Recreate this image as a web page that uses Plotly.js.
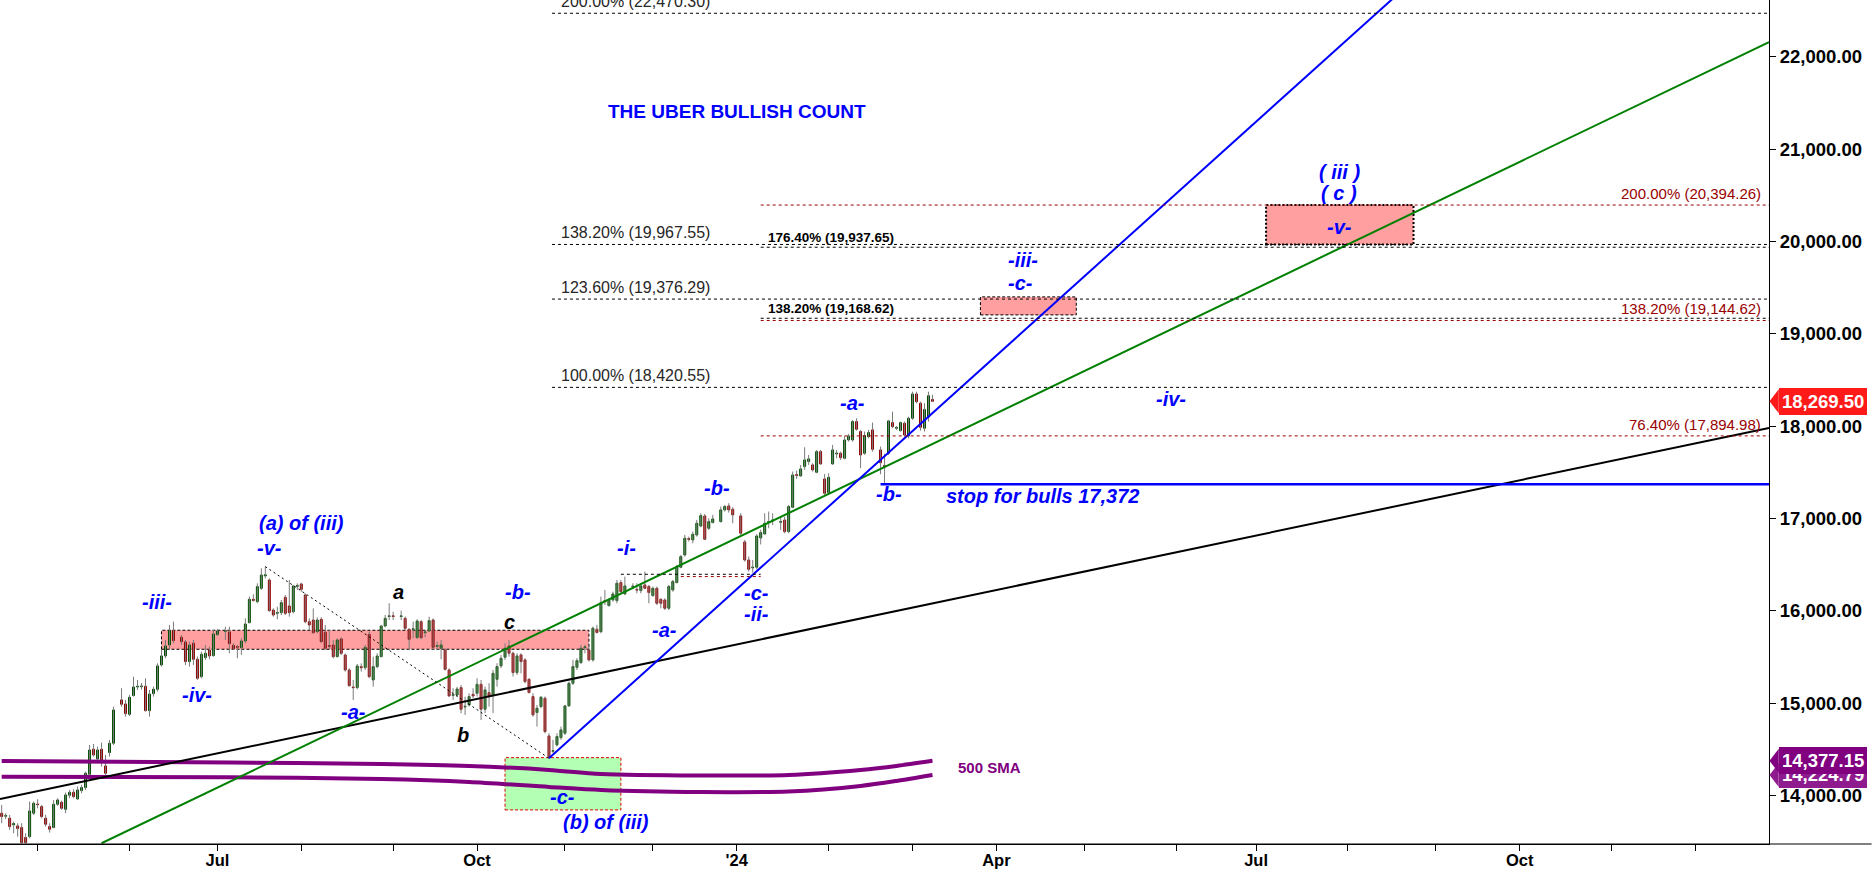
<!DOCTYPE html>
<html><head><meta charset="utf-8">
<script src="https://cdn.plot.ly/plotly-3.0.1.min.js"></script>
<style>html,body{margin:0;padding:0;background:#fff;overflow:hidden}#chart{width:1874px;height:873px}</style>
</head><body><div id="chart"></div>
<script>
// ---------- daily candles ----------
const dates = [
'2023-04-18','2023-04-19','2023-04-20','2023-04-21','2023-04-24','2023-04-25','2023-04-26','2023-04-27','2023-04-28',
'2023-05-01','2023-05-02','2023-05-03','2023-05-04','2023-05-05','2023-05-08','2023-05-09','2023-05-10','2023-05-11','2023-05-12','2023-05-15','2023-05-16','2023-05-17','2023-05-18','2023-05-19','2023-05-22','2023-05-23','2023-05-24','2023-05-25','2023-05-26','2023-05-30','2023-05-31',
'2023-06-01','2023-06-02','2023-06-05','2023-06-06','2023-06-07','2023-06-08','2023-06-09','2023-06-12','2023-06-13','2023-06-14','2023-06-15','2023-06-16','2023-06-20','2023-06-21','2023-06-22','2023-06-23','2023-06-26','2023-06-27','2023-06-28','2023-06-29','2023-06-30',
'2023-07-03','2023-07-05','2023-07-06','2023-07-07','2023-07-10','2023-07-11','2023-07-12','2023-07-13','2023-07-14','2023-07-17','2023-07-18','2023-07-19','2023-07-20','2023-07-21','2023-07-24','2023-07-25','2023-07-26','2023-07-27','2023-07-28','2023-07-31',
'2023-08-01','2023-08-02','2023-08-03','2023-08-04','2023-08-07','2023-08-08','2023-08-09','2023-08-10','2023-08-11','2023-08-14','2023-08-15','2023-08-16','2023-08-17','2023-08-18','2023-08-21','2023-08-22','2023-08-23','2023-08-24','2023-08-25','2023-08-28','2023-08-29','2023-08-30','2023-08-31',
'2023-09-01','2023-09-05','2023-09-06','2023-09-07','2023-09-08','2023-09-11','2023-09-12','2023-09-13','2023-09-14','2023-09-15','2023-09-18','2023-09-19','2023-09-20','2023-09-21','2023-09-22','2023-09-25','2023-09-26','2023-09-27','2023-09-28','2023-09-29',
'2023-10-02','2023-10-03','2023-10-04','2023-10-05','2023-10-06','2023-10-09','2023-10-10','2023-10-11','2023-10-12','2023-10-13','2023-10-16','2023-10-17','2023-10-18','2023-10-19','2023-10-20','2023-10-23','2023-10-24','2023-10-25','2023-10-26','2023-10-27','2023-10-30','2023-10-31',
'2023-11-01','2023-11-02','2023-11-03','2023-11-06','2023-11-07','2023-11-08','2023-11-09','2023-11-10','2023-11-13','2023-11-14','2023-11-15','2023-11-16','2023-11-17','2023-11-20','2023-11-21','2023-11-22','2023-11-24','2023-11-27','2023-11-28','2023-11-29','2023-11-30',
'2023-12-01','2023-12-04','2023-12-05','2023-12-06','2023-12-07','2023-12-08','2023-12-11','2023-12-12','2023-12-13','2023-12-14','2023-12-15','2023-12-18','2023-12-19','2023-12-20','2023-12-21','2023-12-22','2023-12-26','2023-12-27','2023-12-28','2023-12-29',
'2024-01-02','2024-01-03','2024-01-04','2024-01-05','2024-01-08','2024-01-09','2024-01-10','2024-01-11','2024-01-12','2024-01-16','2024-01-17','2024-01-18','2024-01-19','2024-01-22','2024-01-23','2024-01-24','2024-01-25','2024-01-26','2024-01-29','2024-01-30','2024-01-31',
'2024-02-01','2024-02-02','2024-02-05','2024-02-06','2024-02-07','2024-02-08','2024-02-09','2024-02-12','2024-02-13','2024-02-14','2024-02-15','2024-02-16','2024-02-20','2024-02-21','2024-02-22','2024-02-23','2024-02-26','2024-02-27','2024-02-28','2024-02-29',
'2024-03-01','2024-03-04','2024-03-05','2024-03-06','2024-03-07','2024-03-08'];

const opens = [
13810,13778,13756,13684,13673,13655,13547,13557,13810,
13910,13882,13756,13666,13655,13907,13929,13853,14005,14037,13965,14055,14088,14232,14503,14398,14503,14322,14467,14568,15037,14993,
14881,15084,15177,15180,15184,14921,15105,15152,15415,15513,15632,15787,15715,15664,15452,15650,15477,15289,15495,15578,15516,
15744,15780,15773,15628,15614,15603,15675,15873,16126,16101,16245,16380,16335,16010,15975,15982,16147,16054,15992,16266,
16292,16173,15884,15902,15776,15909,15769,15625,15632,15505,15697,15523,15361,15177,15170,15397,15386,15747,15253,15397,15505,15837,15940,
15948,15940,15920,15801,15800,15711,15884,15765,15783,15902,15617,15596,15578,15361,15086,15090,15170,14960,14983,15098,
15109,15206,14936,15116,15091,15260,15405,15499,15621,15542,15333,15524,15470,15260,15073,14900,14965,15055,14647,14480,14550,14629,
14676,14972,15217,15390,15441,15603,15578,15470,15802,15776,16112,16058,16119,16112,16307,16184,16260,16234,16220,16282,16264,
16166,16245,16126,16119,16029,16227,16307,16473,16606,16784,16769,16823,16920,17028,16895,16957,16967,17094,17137,17101,
17029,16747,16552,16466,16473,16790,16834,16960,16975,16960,16985,16859,17122,17476,17462,17563,17617,17581,17501,17725,17429,
17281,17592,17700,17707,17653,17851,17851,18050,17942,17707,17887,17960,17743,17575,17707,18039,17978,17952,18032,17895,
18086,18349,18248,17978,18100,18290];

const highs = [
13900,13810,13792,13720,13702,13702,13593,13936,13936,
13961,13900,13792,13702,13954,13972,13947,14034,14062,14070,14099,14117,14261,14549,14560,14531,14575,14441,14604,14964,15163,15037,
15091,15289,15253,15220,15271,15145,15181,15433,15578,15686,15848,15884,15740,15686,15668,15686,15506,15560,15632,15614,15794,
15805,15830,15830,15650,15632,15704,15920,16155,16180,16299,16462,16480,16353,16028,16046,16119,16173,16335,16281,16299,
16306,16191,15920,16028,15931,15931,15848,15794,15686,15704,15715,15541,15379,15253,15426,15433,15632,15776,15505,15541,15848,15956,16083,
15992,16003,15940,15812,15884,15910,15900,15794,15938,15920,15668,15686,15596,15379,15163,15180,15199,15072,15109,15163,
15271,15253,15181,15217,15361,15434,15524,15650,15686,15560,15542,15542,15488,15271,15109,14983,15080,15073,14676,14604,14676,14748,
14983,15235,15470,15488,15632,15632,15632,15831,15849,16155,16227,16137,16209,16336,16336,16372,16300,16300,16300,16426,16282,
16264,16264,16137,16137,16282,16336,16498,16606,16823,16805,16859,16985,17057,17050,17003,17040,17130,17148,17166,17123,
17058,16769,16589,16552,16830,16880,17058,17076,17058,17021,17021,17148,17509,17520,17581,17772,17689,17599,17743,17743,17483,
17490,17797,17743,17725,17895,17916,18068,18086,17960,17942,17960,18039,17780,17700,18068,18158,18003,18050,18050,18104,
18374,18374,18266,18248,18374,18340];

const lows = [
13702,13745,13630,13593,13557,13485,13485,13539,13792,
13864,13756,13666,13601,13648,13889,13846,13810,13972,13972,13954,14026,14062,14225,14423,14387,14315,14225,14423,14549,14964,14856,
14863,15073,15145,15150,14910,14856,15073,15127,15397,15488,15578,15650,15632,15415,15397,15415,15253,15271,15470,15477,15506,
15729,15686,15542,15578,15488,15524,15650,15866,16101,16083,16227,16353,15992,15938,15910,15956,15956,15938,15974,16227,
16209,15866,15794,15751,15758,15650,15578,15585,15487,15498,15523,15343,15180,15036,15152,15343,15361,15271,15180,15379,15498,15823,15902,
15902,15902,15794,15578,15704,15700,15693,15715,15776,15585,15578,15477,15354,15072,15036,15072,14892,14874,14965,15055,
15073,14820,14893,14965,14893,15181,15380,15470,15506,15289,15307,15325,15217,15109,14856,14748,14947,14676,14405,14460,14532,14604,
14658,14965,15199,15361,15427,15542,15452,15452,15758,15758,16065,16047,16101,16083,16191,16173,16235,16191,16191,16235,16083,
16155,16065,16029,16011,16011,16209,16300,16462,16588,16751,16733,16805,16906,16769,16877,16949,16957,17076,17065,16949,
16823,16534,16426,16415,16451,16720,16823,16895,16930,16877,16841,16841,17112,17430,17454,17527,17581,17509,17490,17581,17256,
17274,17581,17653,17635,17642,17833,17833,17952,17545,17689,17869,17725,17480,17380,17689,17978,17960,17942,17887,17869,
18068,18248,17952,17942,18050,18262];

const closes = [
13774,13784,13666,13698,13644,13492,13492,13835,13918,
13904,13774,13691,13637,13907,13954,13864,14008,14037,13990,14062,14088,14243,14495,14441,14495,14362,14243,14568,14928,14990,14889,
15065,15177,15184,15186,14921,15101,15152,15405,15513,15621,15791,15679,15668,15452,15632,15477,15271,15531,15542,15513,15751,
15783,15786,15646,15592,15608,15675,15859,16126,16115,16263,16389,16390,16003,15956,15982,16090,15974,15982,16270,16274,
16234,15884,15848,15765,15902,15668,15596,15617,15505,15686,15541,15361,15191,15170,15404,15386,15606,15289,15397,15512,15837,15920,15946,
15940,15946,15812,15693,15806,15891,15711,15772,15895,15606,15625,15632,15368,15080,15094,15155,14935,14968,15073,15080,
15206,14936,15145,15073,15325,15398,15488,15596,15542,15333,15513,15452,15235,15116,14875,14947,15066,14694,14423,14488,14640,14712,
14972,15217,15398,15462,15596,15610,15470,15813,15766,16090,16100,16119,16184,16300,16209,16271,16267,16227,16271,16245,16199,
16245,16083,16083,16029,16264,16318,16480,16588,16787,16776,16830,16949,17032,16776,16967,16996,17094,17130,17094,17040,
16841,16552,16451,16473,16812,16848,16949,16967,16985,16967,16859,17130,17472,17468,17537,17635,17646,17527,17725,17592,17274,
17447,17743,17707,17660,17851,17893,18050,17967,17689,17898,17931,17750,17605,17560,18057,17996,17985,18039,17905,18086,
18349,18266,17988,18180,18330,18269.5];

// ---------- 500 SMA envelope (read at sample dates) ----------
const smaDates = ['2023-04-18','2023-07-06','2023-08-29','2023-09-28','2023-10-26','2023-11-14','2023-12-19','2024-01-18','2024-02-13','2024-02-26','2024-03-08'];
const smaUpper = [14376,14360,14344,14322,14279,14235,14219,14225,14279,14322,14377.15];
const smaLower = [14206,14200,14181,14149,14095,14062,14040,14046,14106,14160,14224.79];

// ---------- trend lines (anchor points) ----------
const blackTrendX = ['2023-04-17 13:55','2024-12-26 09:36'];
const blackTrendY = [13965,17981];
const greenTrendX = ['2023-05-23','2024-12-26 09:36'];
const greenTrendY = [13485,22159];
const blueTrendX = ['2023-10-26','2024-08-23 09:36'];
const blueTrendY = [14405,22830];
const dottedX = ['2023-07-19','2023-10-26'];
const dottedY = [16480,14405];
const stopX = ['2024-02-20','2024-12-26 09:36'];
const stopY = [17372,17372];

// ---------- fibonacci levels ----------
const fibLongLevels = [22470.30,19967.55,19376.29,18420.55];
const fibLongLabels = ['200.00% (22,470.30)','138.20% (19,967.55)','123.60% (19,376.29)','100.00% (18,420.55)'];
const fibShortLevels = [19937.65,19168.62];
const fibShortLabels = ['176.40% (19,937.65)','138.20% (19,168.62)'];
const fibRedLevels = [20394.26,19144.62,17894.98];
const fibRedLabels = ['200.00% (20,394.26)','138.20% (19,144.62)','76.40% (17,894.98)'];

const lastPrice = 18269.50;

// ---------- build ----------
const X_END = '2024-12-26 09:36';
const FONT = 'Liberation Sans, Arial, sans-serif';
const bodyHi = opens.map((o,i)=>Math.max(o,closes[i]));
const bodyLo = opens.map((o,i)=>Math.min(o,closes[i]));
const wickX = [], wickY = [];
dates.forEach((d,i)=>{ wickX.push(d,d,null); wickY.push(lows[i],highs[i],null); });

function line(x,y,color,width,dash,shape){
  return {type:'scatter',mode:'lines',x:x,y:y,hoverinfo:'skip',
    line:{color:color,width:width,dash:dash||'solid',shape:shape||'linear',smoothing:0.8}};
}

const traces = [
  line(wickX,wickY,'#7a7a7a',1),
  {type:'candlestick',x:dates,open:opens,high:bodyHi,low:bodyLo,close:closes,
   whiskerwidth:0,hoverinfo:'skip',
   increasing:{line:{color:'#004d00',width:1},fillcolor:'#008000'},
   decreasing:{line:{color:'#8b0000',width:1},fillcolor:'#e60000'}},
  line(smaDates,smaUpper,'#800080',4,'solid','spline'),
  line(smaDates,smaLower,'#800080',4,'solid','spline'),
  line(blackTrendX,blackTrendY,'#000000',2),
  line(greenTrendX,greenTrendY,'#008000',2),
  line(blueTrendX,blueTrendY,'#0000ff',2),
  line(dottedX,dottedY,'#000000',1,'2px,3px'),
  line(stopX,stopY,'#0000ff',2.5),
  line(['2023-11-21','2024-01-09'],[16397,16397],'#000000',1,'3px,3px'),
  line(['2023-12-12','2024-01-09'],[16372,16372],'#990000',1,'3px,3px')
];

const shapes = [
  {type:'rect',xref:'x',yref:'y',x0:'2023-06-13',x1:'2023-11-09',y0:15585,y1:15791,layer:'below',
   fillcolor:'#ff9f9f',line:{color:'#000',width:1,dash:'3px,2px'}},
  {type:'rect',xref:'x',yref:'y',x0:'2023-10-11',x1:'2023-11-21',y0:13846,y1:14412,layer:'below',
   fillcolor:'#b3ffb3',line:{color:'#e00000',width:1,dash:'3px,2px'}},
  {type:'rect',xref:'x',yref:'y',x0:'2024-03-26',x1:'2024-04-29',y0:19205,y1:19400,layer:'below',
   fillcolor:'#ff9f9f',line:{color:'#000',width:1,dash:'3px,2px'}},
  {type:'rect',xref:'x',yref:'y',x0:'2024-07-03 12:00',x1:'2024-08-23 10:00',y0:19967.55,y1:20394.26,layer:'below',
   fillcolor:'#ff9f9f',line:{color:'#000',width:2,dash:'2px,2px'}},
  {type:'line',xref:'paper',yref:'paper',x0:0,x1:1.058,y0:0,y1:0,line:{color:'#000',width:1}}
];
fibLongLevels.forEach(v=>shapes.push({type:'line',xref:'x',yref:'y',x0:'2023-10-26 18:00',x1:X_END,y0:v,y1:v,
  line:{color:'#000',width:1,dash:'3px,3px'}}));
fibShortLevels.forEach(v=>shapes.push({type:'line',xref:'x',yref:'y',x0:'2024-01-09',x1:X_END,y0:v,y1:v,
  line:{color:'#000',width:1,dash:'3px,3px'}}));
fibRedLevels.forEach(v=>shapes.push({type:'line',xref:'x',yref:'y',x0:'2024-01-09',x1:X_END,y0:v,y1:v,
  line:{color:'#990000',width:1,dash:'3px,3px'}}));

// price tag arrows
function tagArrow(v,color){
  const h = 130;
  return {type:'path',xref:'paper',yref:'y',fillcolor:color,line:{color:color,width:0},
    path:`M 1.0003 ${v} L 1.0055 ${v+h} L 1.0055 ${v-h} Z`};
}
shapes.push(tagArrow(14224.79,'#8f1c8f'));
shapes.push(tagArrow(14377.15,'#800080'));
shapes.push(tagArrow(lastPrice,'#ff1a1a'));

const BLUE = '#0000ff';
function wave(text,x,y,color,size){
  return {x:x,y:y,xref:'x',yref:'y',text:'<b><i>'+text+'</i></b>',showarrow:false,
    xanchor:'center',yanchor:'middle',font:{family:FONT,size:size||20,color:color||BLUE}};
}
const annotations = [
  {x:'2024-01-01',y:21407,xref:'x',yref:'y',text:'<b>THE UBER BULLISH COUNT</b>',showarrow:false,
   font:{family:FONT,size:19,color:BLUE}},
  wave('(a) of (iii)','2023-08-01',16952),
  wave('-v-','2023-07-20',16682),
  wave('-iii-','2023-06-12',16101),
  wave('-iv-','2023-06-23 19:00',15091),
  wave('-a-','2023-08-18',14910),
  wave('a','2023-09-04 07:00',16209,'#000'),
  wave('b','2023-09-26 14:00',14658,'#000'),
  wave('c','2023-10-12 05:00',15884,'#000'),
  wave('-b-','2023-10-16 07:00',16209),
  wave('-c-','2023-10-31 12:00',13981),
  wave('(b) of (iii)','2023-11-15 07:00',13716),
  wave('-i-','2023-11-22 07:00',16679),
  wave('-a-','2023-12-06',15794),
  wave('-b-','2023-12-25 02:00',17328),
  wave('-c-','2024-01-08',16191),
  wave('-ii-','2024-01-08',15967),
  wave('-a-','2024-02-08 22:00',18248),
  wave('-b-','2024-02-22 02:00',17266),
  Object.assign(wave('stop for bulls 17,372','2024-03-12 20:00',17248),{xanchor:'left'}),
  wave('-iv-','2024-05-30 17:00',18292),
  wave('-iii-','2024-04-09 17:00',19799),
  wave('-c-','2024-04-08 22:00',19551),
  wave('( iii )','2024-07-30',20755),
  wave('( c )','2024-07-29 18:00',20522),
  wave('-v-','2024-07-30',20160),
  {x:'2024-03-28 05:00',y:14300,xref:'x',yref:'y',text:'<b>500 SMA</b>',showarrow:false,
   font:{family:FONT,size:15,color:'#800080'}}
];
fibLongLevels.forEach((v,i)=>annotations.push({x:'2023-10-30 12:00',y:v,xref:'x',yref:'y',text:fibLongLabels[i],
  showarrow:false,xanchor:'left',yanchor:'bottom',yshift:1,font:{family:FONT,size:16,color:'#262626'}}));
fibShortLevels.forEach((v,i)=>annotations.push({x:'2024-01-10 07:00',y:v,xref:'x',yref:'y',text:fibShortLabels[i],
  showarrow:false,xanchor:'left',yanchor:'bottom',yshift:0,font:{family:'Liberation Sans Narrow, '+FONT,size:13.5,color:'#000',weight:'bold'}}));
fibRedLevels.forEach((v,i)=>annotations.push({x:0.9966,y:v,xref:'paper',yref:'y',text:fibRedLabels[i],
  showarrow:false,xanchor:'right',yanchor:'bottom',yshift:1,font:{family:FONT,size:15,color:'#990000'}}));

function tag(v,text,color){
  return {x:1.0055,y:v,xref:'paper',yref:'y',text:'<b>'+text+'</b>',showarrow:false,xanchor:'left',yanchor:'middle',
    bgcolor:color,bordercolor:color,borderpad:2,font:{family:FONT,size:18.5,color:'#fff'}};
}
annotations.push(tag(14224.79,'14,224.79','#8f1c8f'));
annotations.push(tag(14377.15,'14,377.15','#800080'));
annotations.push(tag(lastPrice,'18,269.50','#ff1a1a'));

const monthTicks = ['2023-05-01','2023-06-01','2023-07-03','2023-08-01','2023-09-01','2023-10-02','2023-11-01','2023-12-01',
  '2024-01-01','2024-02-01','2024-03-01','2024-04-01','2024-05-01','2024-06-03','2024-07-01','2024-08-01','2024-09-02','2024-10-01','2024-11-01','2024-12-02'];
const monthLabels = ['','','Jul','','','Oct','','',"'24",'','','Apr','','','Jul','','','Oct','',''];
const priceTicks = [14000,15000,16000,17000,18000,19000,20000,21000,22000];

const layout = {
  width:1874,height:873,margin:{l:0,r:105,t:0,b:29},
  paper_bgcolor:'#fff',plot_bgcolor:'#fff',showlegend:false,hovermode:false,dragmode:false,
  xaxis:{type:'date',range:['2023-04-17 13:55',X_END],rangebreaks:[{bounds:['sat','mon']}],
    rangeslider:{visible:false},showgrid:false,zeroline:false,showline:true,linecolor:'#000',linewidth:1,
    ticks:'outside',ticklen:6,tickcolor:'#000',tickvals:monthTicks,ticktext:monthLabels,ticklabelstandoff:-5,
    tickfont:{family:FONT,size:16.5,color:'#000',weight:'bold'},fixedrange:true},
  yaxis:{side:'right',range:[13477,22614],showgrid:false,zeroline:false,showline:true,linecolor:'#000',linewidth:1,
    ticks:'outside',ticklen:6,tickcolor:'#000',tickvals:priceTicks,tickformat:',.2f',
    tickfont:{family:FONT,size:18.5,color:'#000',weight:'bold'},fixedrange:true},
  shapes:shapes,annotations:annotations
};
Plotly.newPlot('chart',traces,layout,{displayModeBar:false,staticPlot:true});
</script></body></html>
